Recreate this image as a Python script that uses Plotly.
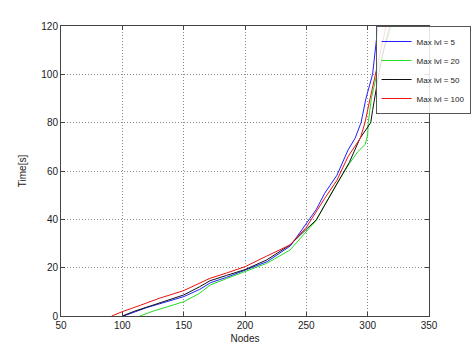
import plotly.graph_objects as go

# Max lvl = 5
x5 = [101, 110, 120, 130, 140, 150, 163, 172, 185, 196, 200, 218, 237, 250, 258, 265, 275, 284, 289.7, 294.6, 298.6, 304, 306, 308.4, 310]
y5 = [0, 1.8, 3.5, 5, 6.5, 8, 11, 13.8, 16, 18.1, 19, 22.5, 29, 38.5, 44, 50.8, 58.3, 68.7, 73.5, 80, 90, 100, 110, 120, 125]
# Max lvl = 20
x20 = [114.4, 125, 138, 150, 163, 171.5, 185, 196, 200, 217.7, 236.7, 250, 258, 265, 275, 285, 292, 298, 300, 300.5, 303, 307.4, 313, 319.5, 322]
y20 = [0, 2, 4, 5.9, 9.4, 12.8, 15.5, 17.7, 18.4, 21.8, 27.3, 34.9, 39.5, 45.9, 54.9, 63, 68, 71, 75, 80, 90, 100, 110, 120, 123]
# Max lvl = 50
x50 = [100, 110, 125, 138, 150, 163, 171.5, 185, 196, 200, 217.7, 236.7, 250, 258, 265, 275, 285, 293.7, 302.5, 304, 309, 313, 318, 321]
y50 = [0, 2, 4.5, 6.7, 8.7, 12.1, 14.6, 16.8, 18.8, 19.2, 23.2, 29.4, 35.9, 39.7, 45.9, 54.9, 63.5, 73.5, 80, 85, 100, 110, 120, 123]
# Max lvl = 100
x100 = [91.3, 100, 115, 130, 150, 163, 171.5, 185, 196, 200, 217.7, 236.7, 250, 258, 265, 275, 284, 294, 297.8, 302, 306.5, 311, 315, 318]
y100 = [0, 1.8, 4.5, 7.3, 10.5, 13.5, 15.6, 17.8, 19.7, 20.4, 24.8, 29.4, 36.7, 43.2, 48.7, 56.2, 66, 73.5, 80, 90, 100, 110, 120, 124]

series = [
    ("Max lvl = 5", x5, y5, "#1f1fff"),
    ("Max lvl = 20", x20, y20, "#22dd22"),
    ("Max lvl = 50", x50, y50, "#111111"),
    ("Max lvl = 100", x100, y100, "#ee1111"),
]

x_ticks = [50, 100, 150, 200, 250, 300, 350]
y_ticks = [0, 20, 40, 60, 80, 100, 120]

fig = go.Figure()
for name, xs, ys, col in series:
    fig.add_trace(go.Scatter(x=xs, y=ys, mode="lines", name=name,
                             line=dict(color=col, width=1)))

axis_common = dict(
    showline=True, linecolor="#444444", linewidth=1, mirror="ticks",
    ticks="inside", ticklen=4, tickcolor="#444444",
    showgrid=True, gridcolor="#888888", griddash="1px,2px", gridwidth=1,
    zeroline=False, tickfont=dict(family="Liberation Sans, Arial", size=10, color="#222222"),
)

fig.update_xaxes(range=[50, 350], tickvals=x_ticks, title=dict(text="Nodes", font=dict(size=10, family="Liberation Sans, Arial", color="#222222"), standoff=4), **axis_common)
fig.update_yaxes(range=[0, 120], tickvals=y_ticks, title=dict(text="Time[s]", font=dict(size=10, family="Liberation Sans, Arial", color="#222222"), standoff=12), **axis_common)

fig.update_layout(
    width=474, height=355,
    margin=dict(l=61, r=45, t=26, b=39, autoexpand=False),
    paper_bgcolor="white", plot_bgcolor="white",
    legend=dict(x=1.113, xanchor="right", y=1, yanchor="top",
                bgcolor="rgba(255,255,255,0.85)", bordercolor="#555555", borderwidth=1,
                font=dict(family="Liberation Sans, Arial", size=8, color="#222222"),
                itemwidth=30, tracegroupgap=0),
)

fig.write_html("out.html")
